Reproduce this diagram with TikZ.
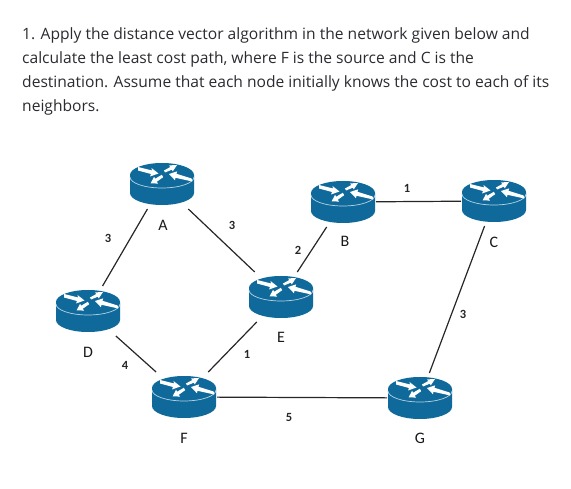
\documentclass[tikz,border=0pt]{standalone}
\usepackage{fontspec}
\setmainfont{Open Sans}
\newfontfamily\lblfont{Carlito}
\definecolor{rbody}{HTML}{0F6A9B}
\definecolor{txt}{HTML}{2A2A30}
\newcommand{\routerat}[3]{%
 \node[routerbox] (#1) at (#2,-#3) {};
 \begin{scope}[shift={(#2,-#3)},x=1pt,y=1pt]
  \fill[rbody] (-32,9) -- (-32,-9) arc[start angle=180,end angle=360,x radius=32,y radius=12] -- (32,9) arc[start angle=0,end angle=180,x radius=32,y radius=12] -- cycle;
  \draw[white!70!rbody,line width=.7pt] (-32,7) arc[start angle=180,end angle=360,x radius=32,y radius=11];
  \fill[white] (-24,17) -- (-10,13.5) -- (-10.5,16) -- (-3.5,10.5) -- (-12,7.5) -- (-11,10) -- (-24,13.5) -- cycle;
  \fill[white] (29.6,5.5) -- (14.5,10.2) -- (15.1,12.6) -- (7,10) -- (12.9,3.8) -- (13.5,6.2) -- (30.4,2.5) -- cycle;
  \fill[white] (1.9,13.5) -- (8.2,16.9) -- (7.2,18.6) -- (15,19) -- (10.8,12.6) -- (9.8,14.3) -- (3.1,11.5) -- cycle;
  \fill[white] (1.2,6.8) -- (-5.2,2.3) -- (-4,.4) -- (-11.3,.7) -- (-8,7.2) -- (-6.8,5.3) -- (-.2,9.2) -- cycle;
 \end{scope}}
\begin{document}
\begin{tikzpicture}[x=1pt,y=1pt,
  routerbox/.style={minimum width=66pt,minimum height=50pt,inner sep=0pt,outer sep=0pt},
  linkline/.style={draw=black!85,line width=1.2pt},
  question/.style={anchor=base west,inner sep=0pt,font=\fontsize{15.6pt}{18pt}\selectfont,text=txt},
  namelabel/.style={inner sep=0pt,font=\lblfont\fontsize{16pt}{18pt}\selectfont,text=black!90},
  costlabel/.style={inner sep=0pt,font=\lblfont\bfseries\fontsize{12.5pt}{14pt}\selectfont,text=black!85}]
\useasboundingbox (0,0) rectangle (571,-489);
\node[question] (q1) at (22,-40) {1. Apply the distance vector algorithm in the network given below and};
\node[question] (q2) at (22,-64) {calculate the least cost path, where F is the source and C is the};
\node[question] (q3) at (22,-88) {destination. Assume that each node initially knows the cost to each of its};
\node[question] (q4) at (22,-112) {neighbors.};
\routerat{A}{162}{184}
\routerat{B}{343}{202}
\routerat{C}{494}{201}
\routerat{D}{88}{311}
\routerat{E}{281}{297}
\routerat{F}{184}{397}
\routerat{G}{420}{398}
\draw[linkline] (A) -- (D);
\draw[linkline] (A) -- (E);
\draw[linkline] (B) -- (E);
\draw[linkline] (B) -- (C);
\draw[linkline] (C) -- (G);
\draw[linkline] (D) -- (F);
\draw[linkline] (E) -- (F);
\draw[linkline] (F) -- (G);
\node[namelabel] (la) at (163,-225) {A};
\node[namelabel] (lb) at (345,-241) {B};
\node[namelabel] (lc) at (494,-242) {C};
\node[namelabel] (ld) at (88,-352) {D};
\node[namelabel] (le) at (281,-337) {E};
\node[namelabel] (lf) at (184,-438) {F};
\node[namelabel] (lg) at (420,-438) {G};
\node[costlabel] at (407,-188) {1};
\node[costlabel] at (108,-238) {3};
\node[costlabel] at (232,-225) {3};
\node[costlabel] at (298,-250) {2};
\node[costlabel] at (463,-314) {3};
\node[costlabel] at (125,-365) {4};
\node[costlabel] at (247,-354) {1};
\node[costlabel] at (289,-417) {5};
\end{tikzpicture}
\end{document}
